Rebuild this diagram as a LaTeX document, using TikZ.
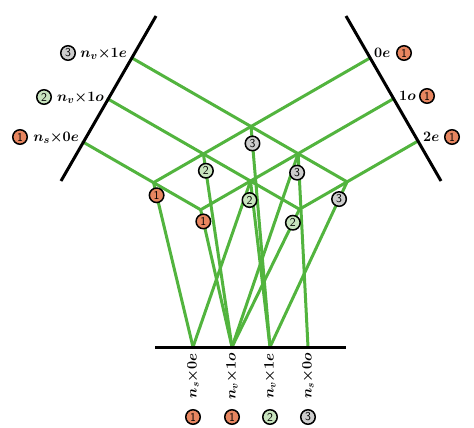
\documentclass[tikz,border=0pt]{standalone}
\usetikzlibrary{calc}
\definecolor{gline}{RGB}{82,180,62}
\definecolor{bor}{RGB}{232,134,96}
\definecolor{bgr}{RGB}{200,228,190}
\definecolor{bgy}{RGB}{205,205,205}
\begin{document}
\begin{tikzpicture}[x=1pt,y=-1pt,
  gl/.style={draw=gline, line width=3pt, line cap=round},
  bl/.style={draw=black, line width=3pt},
  badge/.style={circle, draw=black, line width=1.5pt, minimum size=14.5pt, inner sep=0pt, font=\sffamily\fontsize{12}{14}\selectfont},
  one/.style={badge, fill=bor},
  two/.style={badge, fill=bgr},
  three/.style={badge, fill=bgy},
  lab/.style={inner sep=0pt, font=\fontsize{15}{18}\selectfont\boldmath},
  blab/.style={inner sep=0pt, rotate=90, anchor=east, font=\fontsize{14.5}{17}\selectfont\boldmath},
]
\useasboundingbox (0,0) rectangle (474,428);
% frame lines
\coordinate (LT) at (156,16); \coordinate (LB) at (61,181);
\coordinate (RT) at (346,16); \coordinate (RB) at (441,181);
\coordinate (BL) at (155,347); \coordinate (BR) at (346,347);
% input points
\coordinate (L1) at (83,142); \coordinate (L2) at (108,99); \coordinate (L3) at (132,58);
\coordinate (R0) at (370,58); \coordinate (R1) at (393,99); \coordinate (R2) at (418,141);
\coordinate (B1) at (193,347); \coordinate (B2) at (232,347);
\coordinate (B3) at (270,347); \coordinate (B4) at (308,347);
% directions
\foreach \i in {1,2,3} {\coordinate (L\i d) at ($(L\i)+(165,95)$);}
\foreach \j in {0,1,2} {\coordinate (R\j d) at ($(R\j)+(-165,95)$);}
% intersections
\coordinate (I10) at (intersection of L1--L1d and R0--R0d);
\coordinate (I11) at (intersection of L1--L1d and R1--R1d);
\coordinate (I20) at (intersection of L2--L2d and R0--R0d);
\coordinate (I21) at (intersection of L2--L2d and R1--R1d);
\coordinate (I22) at (intersection of L2--L2d and R2--R2d);
\coordinate (I30) at (intersection of L3--L3d and R0--R0d);
\coordinate (I31) at (intersection of L3--L3d and R1--R1d);
\coordinate (I32) at (intersection of L3--L3d and R2--R2d);
% green paths
\draw[gl] (L1) -- (I10) -- (I11);
\draw[gl] (L2) -- (I20) -- (I21) -- (I22);
\draw[gl] (L3) -- (I30) -- (I31) -- (I32);
\draw[gl] (R0) -- (I30) -- (I20) -- (I10);
\draw[gl] (R1) -- (I31) -- (I21) -- (I11);
\draw[gl] (R2) -- (I32) -- (I22);
\draw[gl] (I10) -- (B1);
\draw[gl] (I11) -- (B2);
\draw[gl] (I20) -- (B2);
\draw[gl] (I21) -- (B1);
\draw[gl] (I21) -- (B3);
\draw[gl] (I22) -- (B2);
\draw[gl] (I30) -- (B3);
\draw[gl] (I31) -- (B2);
\draw[gl] (I31) -- (B4);
\draw[gl] (I32) -- (B3);
% black frame lines
\draw[bl] (LT) -- (LB);
\draw[bl] (RT) -- (RB);
\draw[bl] (BL) -- (BR);
% intersection badges
\node[one] (c10) at ($(I10)!13pt!(B1)$) {1};
\node[one] (c11) at ($(I11)!12pt!(B2)$) {1};
\node[two] (c20) at ($(I20)!17pt!(B2)$) {2};
\node[two] (c21) at ($(I21)+(-1,19)$) {2};
\node[two] (c22) at ($(I22)!15pt!(B2)$) {2};
\node[three] (c30) at ($(I30)!17pt!(B3)$) {3};
\node[three] (c31) at ($(I31)+(-1,19)$) {3};
\node[three] (c32) at ($(I32)!19pt!(B3)$) {3};
% left labels
\node[three] (bl3) at (68,53) {3};
\node[lab, anchor=east] (tl3) at (127,54) {$n_v{\times}1e$};
\node[two] (bl2) at (44,97) {2};
\node[lab, anchor=east] (tl2) at (104,98) {$n_v{\times}1o$};
\node[one] (bl1) at (20,137) {1};
\node[lab, anchor=east] (tl1) at (79,138) {$n_s{\times}0e$};
% right labels
\node[lab, anchor=west] (tr0) at (374,53) {$0e$};
\node[one] (br0) at (404,53) {1};
\node[lab, anchor=west] (tr1) at (399,96) {$1o$};
\node[one] (br1) at (427,96) {1};
\node[lab, anchor=west] (tr2) at (423,137) {$2e$};
\node[one] (br2) at (452,137) {1};
% bottom labels
\node[blab] (tb1) at ($(B1)+(0,6)$) {$n_s{\times}0e$};
\node[blab] (tb2) at ($(B2)+(0,6)$) {$n_v{\times}1o$};
\node[blab] (tb3) at ($(B3)+(0,6)$) {$n_v{\times}1e$};
\node[blab] (tb4) at ($(B4)+(0,6)$) {$n_s{\times}0o$};
\node[one] (bb1) at (193,417) {1};
\node[one] (bb2) at (232,417) {1};
\node[two] (bb3) at (270,417) {2};
\node[three] (bb4) at (308,417) {3};
\end{tikzpicture}
\end{document}
